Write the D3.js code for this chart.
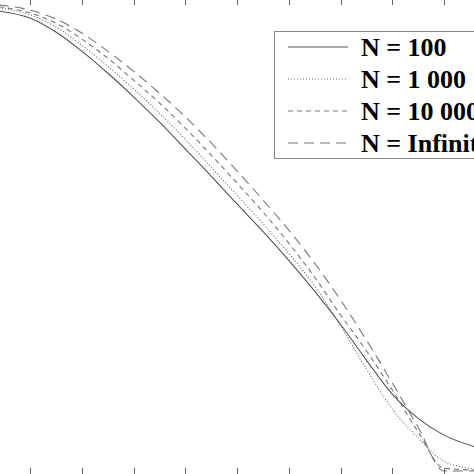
<!DOCTYPE html>
<meta charset="utf-8">
<style>
body{
	margin: 0;
	background: #fff;
}
.axis text {
  display: none;
}
.axis path {
  display: none;
}
.axis line {
  stroke: #666;
  shape-rendering: crispEdges;
}
.line{
	fill: none;
	stroke-width: 1.1;
}
.legend text{
	font: bold 26px "Liberation Serif", "Times New Roman", serif;
	fill: #000;
}
</style>
<svg class="chart"></svg>
<script src="https://cdnjs.cloudflare.com/ajax/libs/d3/7.8.5/d3.min.js" charset="utf-8"></script>
<script>
var xs = [-0.6, 0, 0.5, 1, 1.5, 2, 2.5, 3, 3.5, 4, 4.5, 5, 5.5, 6, 6.5, 7, 7.5, 8, 8.6];

var n100 = [0.987, 0.972, 0.942, 0.901, 0.854, 0.803, 0.749, 0.691, 0.633, 0.573,
			0.514, 0.452, 0.386, 0.315, 0.238, 0.165, 0.113, 0.077, 0.052];
var n1000 = [0.994, 0.979, 0.953, 0.914, 0.869, 0.820, 0.768, 0.712, 0.652, 0.592,
			0.531, 0.467, 0.397, 0.312, 0.219, 0.133, 0.071, 0.021, 0.004];
var n10000 = [0.996, 0.983, 0.961, 0.927, 0.886, 0.839, 0.790, 0.736, 0.678, 0.618,
			0.556, 0.489, 0.416, 0.335, 0.258, 0.174, 0.084, 0.006, 0.002];
var nInf = [1.000, 0.989, 0.970, 0.940, 0.901, 0.858, 0.811, 0.760, 0.704, 0.644,
			0.582, 0.517, 0.446, 0.367, 0.281, 0.189, 0.094, 0.000, 0.000];

var xTicks = [0, 1, 2, 3, 4, 5, 6, 7, 8];
var labels = ["N = 100", "N = 1 000", "N = 10 000", "N = Infinity"];
var dashes = ["none", "1,2", "5,4", "10,6"];
var colors = ["#555", "#666", "#777", "#777"];

var series = [n100, n1000, n10000, nInf];

var width = 474,
	height = 474;

var x = d3.scaleLinear()
	.domain([0, 8])
	.range([30, 444]);

var y = d3.scaleLinear()
	.domain([0, 1])
	.range([471, 5]);

var chart = d3.select(".chart")
	.attr("width", width)
	.attr("height", height);

var line = d3.line()
	.x(function(d, i){ return x(xs[i]); })
	.y(function(d){ return y(d); })
	.curve(d3.curveMonotoneX);

chart.selectAll(".line")
		.data(series)
	.enter().append("path")
		.attr("class", "line")
		.attr("d", line)
		.attr("stroke", function(d, i){ return colors[i]; })
		.attr("stroke-dasharray", function(d, i){ return dashes[i]; });

// inward ticks, axes themselves fall outside the crop
chart.append("g")
	.attr("class", "x axis")
	.attr("transform", "translate(0," + (height + 1) + ")")
	.call(d3.axisBottom(x).tickValues(xTicks).tickSize(-7).tickFormat(""));

chart.append("g")
	.attr("class", "x axis")
	.attr("transform", "translate(0,-1)")
	.call(d3.axisTop(x).tickValues(xTicks).tickSize(-6).tickFormat(""));

// legend
var legend = chart.append("g")
	.attr("class", "legend");

legend.append("rect")
	.attr("x", 274.5)
	.attr("y", 31.5)
	.attr("width", 260)
	.attr("height", 127)
	.attr("fill", "#fff")
	.attr("stroke", "#888")
	.attr("stroke-width", 1);

var item = legend.selectAll(".item")
		.data(labels)
	.enter().append("g")
		.attr("class", "item")
		.attr("transform", function(d, i){ return "translate(0," + (47 + i * 32) + ")"; });

item.append("line")
	.attr("x1", 288)
	.attr("x2", 348)
	.attr("stroke", function(d, i){ return colors[i]; })
	.attr("stroke-width", 1.1)
	.attr("stroke-dasharray", function(d, i){ return dashes[i]; });

item.append("text")
	.attr("x", 361)
	.attr("y", 9)
	.text(function(d){ return d; });
</script>
